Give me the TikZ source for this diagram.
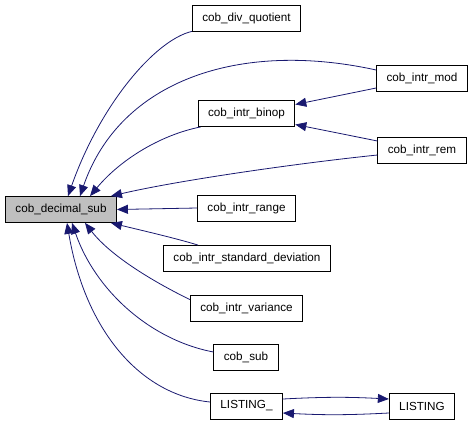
\documentclass[tikz,border=0pt]{standalone}
\usepackage{fontspec}
\setmainfont{Liberation Sans}
\usepackage{tikz}
\usetikzlibrary{arrows.meta}
\definecolor{edgeblue}{RGB}{25,25,112}

\begin{document}
\begin{tikzpicture}[x=1pt,y=-1pt,
        >={Triangle[length=11pt,width=9pt]},
        fn/.style={draw, fill=white, line width=0.8pt, inner xsep=10pt, inner ysep=0pt,
            minimum height=26pt, font=\fontsize{11.7}{14}\selectfont},
        call/.style={draw=edgeblue, line width=0.8pt, ->, edgeblue}]
        \useasboundingbox (0,0) rectangle (474,424);
        \node[fn, fill=black!25] (decsub) at (61,209.5) {cob\_decimal\_sub};
        \node[fn] (divquot) at (246.5,18) {cob\_div\_quotient};
        \node[fn] (intrmod) at (422,78) {cob\_intr\_mod};
        \node[fn] (intrbinop) at (246.5,113.5) {cob\_intr\_binop};
        \node[fn] (intrrem) at (422,150) {cob\_intr\_rem};
        \node[fn] (intrrange) at (246.5,208) {cob\_intr\_range};
        \node[fn] (intrstd) at (247,258.5) {cob\_intr\_standard\_deviation};
        \node[fn] (intrvar) at (246.5,308) {cob\_intr\_variance};
        \node[fn] (sub) at (246,357) {cob\_sub};
        \node[fn] (listingu) at (246.5,406) {LISTING\_};
        \node[fn] (listing) at (422,406) {LISTING};
        % callers of cob_decimal_sub
        \draw[call, <-] ([xshift=7pt]decsub.north) .. controls (100,105) and (155,40) .. (divquot.south west);
        \draw[call, <-] ([xshift=19pt]decsub.north) .. controls (120,80) and (240,40) .. ([yshift=8pt]intrmod.west);
        \draw[call, <-] ([xshift=29pt]decsub.north) .. controls (120,160) and (160,135) .. ([xshift=3pt]intrbinop.south west);
        \draw[call, <-] ([xshift=-6pt]decsub.north east) .. controls (180,180) and (300,163) .. ([yshift=-5pt]intrrem.west);
        \draw[call, <-] (decsub.east) -- (intrrange.west);
        \draw[call, <-] ([xshift=-6pt]decsub.south east) .. controls (140,230) and (175,238) .. ([xshift=35pt]intrstd.north west);
        \draw[call, <-] ([xshift=24pt]decsub.south) .. controls (110,255) and (150,280) .. ([yshift=-5pt]intrvar.north west);
        \draw[call, <-] ([xshift=11pt]decsub.south) .. controls (95,290) and (150,340) .. ([yshift=5pt]sub.west);
        \draw[call, <-] ([xshift=6pt]decsub.south) .. controls (85,330) and (140,395) .. ([yshift=4pt]listingu.west);
        % callers of cob_intr_binop
        \draw[call, <-] ([yshift=9pt]intrbinop.east) -- ([yshift=-10pt]intrmod.west);
        \draw[call, <-] ([yshift=-11pt]intrbinop.east) -- ([yshift=9pt]intrrem.west);
        % LISTING pair
        \draw[call] ([yshift=7pt]listingu.east) to[bend left=3] ([yshift=7pt]listing.west);
        \draw[call] ([yshift=-7pt]listing.west) to[bend left=3] ([yshift=-7pt]listingu.east);
    \end{tikzpicture}
\end{document}
